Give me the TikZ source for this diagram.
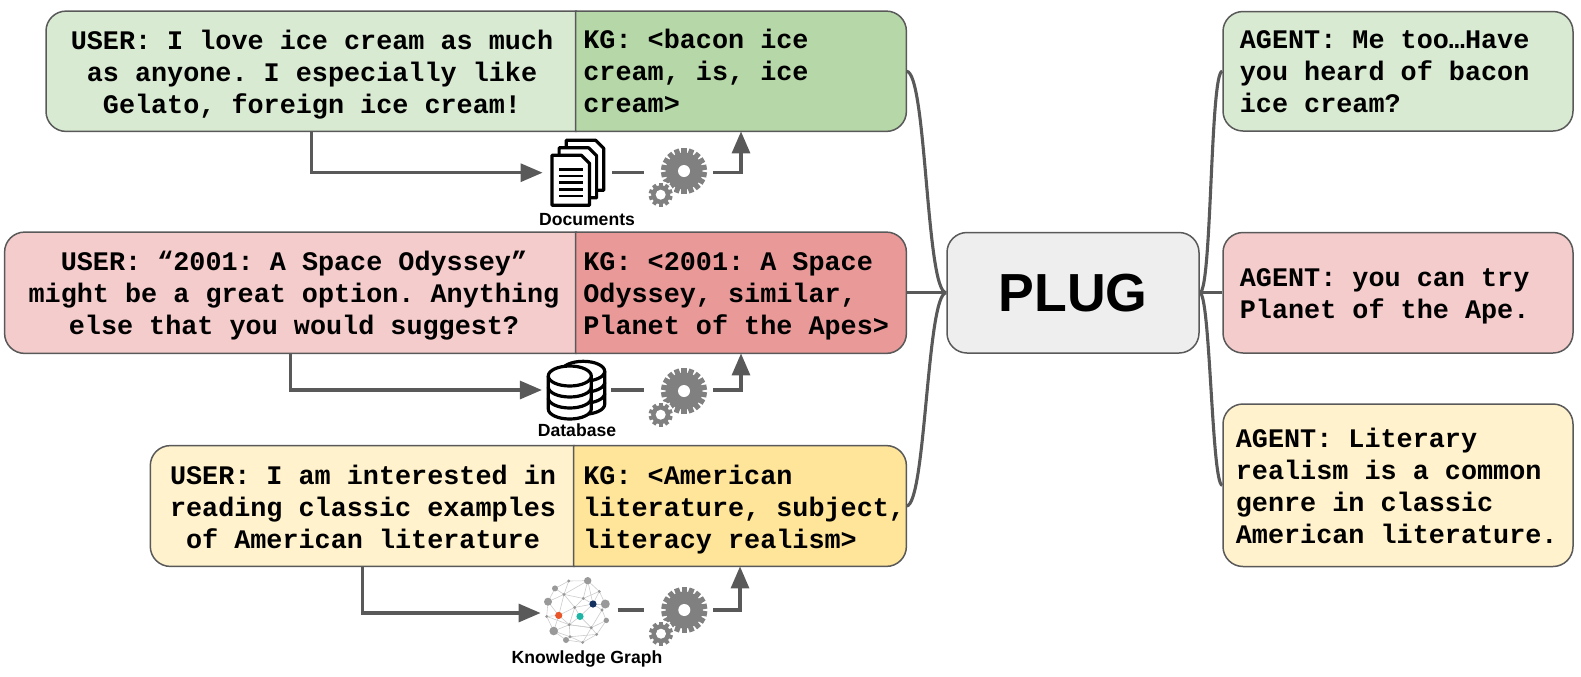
\documentclass[tikz,border=0pt]{standalone}
\usepackage{fontspec}
\setmonofont{Liberation Mono}
\setsansfont{Liberation Sans}
\usetikzlibrary{arrows.meta, fit}

\definecolor{greenL}{HTML}{D9EAD3}
\definecolor{greenD}{HTML}{B6D7A8}
\definecolor{redL}{HTML}{F4CCCC}
\definecolor{redD}{HTML}{EA9999}
\definecolor{yellowL}{HTML}{FFF2CC}
\definecolor{yellowD}{HTML}{FFE599}
\definecolor{plugfill}{HTML}{EEEEEE}
\definecolor{linegray}{HTML}{595959}
\definecolor{geargray}{HTML}{808080}
\definecolor{kgorange}{HTML}{E8562A}
\definecolor{kgteal}{HTML}{1FB5A6}
\definecolor{kgnavy}{HTML}{14305E}

\begin{document}
\begin{tikzpicture}[
    x=0.5pt, y=-0.5pt,
    >={Triangle[length=11pt,width=9pt]},
    part/.style={inner sep=0pt},
    edge/.style={draw=linegray, line width=0.75pt},
    agent/.style={part, edge, rounded corners=10pt},
    flow/.style={draw=linegray, line width=1.55pt},
    link/.style={flow, out=0, in=180},
    msg/.style={font=\ttfamily\bfseries\fontsize{13.4}{16}\selectfont, inner sep=0pt},
    usertext/.style={msg, align=center},
    kgtext/.style={msg, align=left, anchor=west},
    caption/.style={font=\sffamily\bfseries\fontsize{8.8}{10}\selectfont, inner sep=0pt},
    dark/.style={draw=black, line width=1.6pt},
    gearpair/.pic={
        \fill[geargray] (0,0) circle (18.5);
        \foreach \a in {0,20,...,340}
            \fill[geargray, rotate=\a] (-2.6,-23) rectangle (2.6,-16);
        \fill[white] (0,0) circle (6);
        \fill[white] (-23.3,23.7) circle (13.5);
        \fill[geargray] (-23.3,23.7) circle (9.5);
        \foreach \a in {0,36,...,324}
            \fill[geargray, shift={(-23.3,23.7)}, rotate=\a] (-2,-12) rectangle (2,-8);
        \fill[white] (-23.3,23.7) circle (5);
    },
    sheet/.pic={
        \draw[dark, fill=white, line join=round] (0,0) -- (29.5,0) -- (37.5,8) -- (37.5,50) -- (0,50) -- cycle;
    },
    barrel/.pic={
        \draw[dark, fill=white] (-21.5,0) -- (-21.5,33)
            arc[start angle=180, end angle=0, x radius=21.5, y radius=10] -- (21.5,0);
        \draw[dark, fill=white] (0,0) ellipse [x radius=21.5, y radius=10];
        \foreach \t in {11,22}
            \draw[dark] (-21.5,\t) arc[start angle=180, end angle=0, x radius=21.5, y radius=10];
    }
]
\useasboundingbox (0,0) rectangle (1581,676);

% Left panels
\node[part, fit={(46.4,11.5) (576,131)}] (user1) {};
\node[part, fit={(576,11.5) (906,131)}] (kg1) {};
\node[part, fit={(5,232.5) (576,353)}] (user2) {};
\node[part, fit={(576,232.5) (906,353)}] (kg2) {};
\node[part, fit={(150.7,446) (574,566)}] (user3) {};
\node[part, fit={(574,446) (906,566)}] (kg3) {};

\foreach \nm/\col in {user1/greenL, user2/redL, user3/yellowL}
    \draw[edge, fill=\col] (\nm.north east) [rounded corners=10pt] -- (\nm.north west)
        -- (\nm.south west) [sharp corners] -- (\nm.south east) -- cycle;
\foreach \nm/\col in {kg1/greenD, kg2/redD, kg3/yellowD}
    \draw[edge, fill=\col] (\nm.north west) [rounded corners=10pt] -- (\nm.north east)
        -- (\nm.south east) [sharp corners] -- (\nm.south west) -- cycle;

% Panel texts
\node[usertext] (usertext1) at (312,74.5) {USER: I love ice cream as much\\as anyone. I especially like\\Gelato, foreign ice cream!};
\node[kgtext] (kgtext1) at (583,70.5) {KG: <bacon ice\\cream, is, ice\\cream>};
\node[usertext] (usertext2) at (294,295.5) {USER: “2001: A Space Odyssey”\\might be a great option. Anything\\else that you would suggest?};
\node[kgtext] (kgtext2) at (583,296) {KG: <2001: A Space\\Odyssey, similar,\\Planet of the Apes>};
\node[usertext] (usertext3) at (363,507) {USER: I am interested in\\reading classic examples\\of American literature};
\node[kgtext] (kgtext3) at (583,509.5) {KG: <American\\literature, subject,\\literacy realism>};

% Centre and answers
\node[agent, fill=plugfill, fit={(947,232.5) (1199,353)}] (plug) {};
\node[font=\sffamily\bfseries\fontsize{26.8}{30}\selectfont, inner sep=0pt] (plugtext) at (1073,293) {PLUG};
\node[agent, fill=greenL, fit={(1223,11.5) (1573,131)}] (agent1) {};
\node[agent, fill=redL, fit={(1223,232.5) (1573,353)}] (agent2) {};
\node[agent, fill=yellowL, fit={(1223,404) (1573,566.5)}] (agent3) {};
\node[kgtext] (agenttext1) at (1239.5,71.5) {AGENT: Me too…Have\\you heard of bacon\\ice cream?};
\node[kgtext] (agenttext2) at (1239.5,296) {AGENT: you can try\\Planet of the Ape.};
\node[kgtext] (agenttext3) at (1235.5,486) {AGENT: Literary\\realism is a common\\genre in classic\\American literature.};

% Icon slots
\node[part, fit={(543,139) (612,206.4)}] (docs) {};
\node[part, fit={(644,150) (713,195.4)}] (gear1) {};
\node[part, fit={(542.3,360) (610.7,420)}] (base) {};
\node[part, fit={(644,370) (713,410)}] (gear2) {};
\node[part, fit={(541,580) (617.3,646)}] (graph) {};
\node[part, fit={(644,590) (713,630)}] (gear3) {};

% Documents icon
\foreach \dx/\dy in {14.2/-15, 7.1/-7.5, 0/0}
    \pic at (552+\dx,155.3+\dy) {sheet};
\foreach \ly in {169.3,176,182.7,189.3,196}
    \fill[black] (558.7,\ly-1.3) rectangle (582.7,\ly+1.3);

% Database icon
\pic at (583.2,371.3) {barrel};
\pic at (569.8,376) {barrel};

% Knowledge graph icon
\begin{scope}[shift={(576,611.7)}]
    \foreach \n/\x/\y in {a/11.7/-31, b/-21/-23.3, c/-28/-10, d/29.3/-7.7, e/-22.3/19.3, f/30.3/8.7, g/-10/28.3,
        h/-7.3/-30.7, i/23.3/-20.3, j/-12/-17.3, k/7.3/-13.3, l/-1.3/-4.3, m/-29.3/4.7, n/26/-1.7,
        o/-6.7/13, p/15.3/16, q/20.7/22.7, r/-6/25, s/6.7/30.7, u/-17.3/3.7, v/4/4.7, w/17/-7.7}
        \coordinate (kg\n) at (\x,\y);
    \foreach \p/\q in {h/a, a/i, i/d, d/n, n/f, f/q, q/s, s/g, g/e, e/m, m/c, c/b, b/h, j/h, j/a, j/b, j/c, j/k, j/l, j/u,
        k/a, k/i, k/w, k/l, l/w, l/v, l/u, l/o, u/c, u/m, u/e, u/o, v/w, v/o, v/p, w/d, w/n, w/i, n/p, f/p, p/q, p/o, o/e, o/r,
        r/g, r/s, r/e, p/s, o/p, a/w, m/o, q/r}
        \draw[gray!40, line width=0.3pt] (kg\p) -- (kg\q);
    \foreach \n/\r in {a/3.7, b/3, c/4, d/4.5, e/4.3, f/2.7, g/3}
        \fill[gray!80] (kg\n) circle (\r);
    \foreach \n in {h,i,j,k,l,m,n,o,p,q,r,s}
        \fill[gray!80] (kg\n) circle (1.6);
    \fill[kgorange] (kgu) circle (3.6);
    \fill[kgteal] (kgv) circle (3.6);
    \fill[kgnavy] (kgw) circle (3.6);
\end{scope}

% Gears
\pic at (684,171) {gearpair};
\pic at (684,391) {gearpair};
\pic at (684.3,610) {gearpair};

% Icon captions
\node[caption] (docslabel) at (587,220) {Documents};
\node[caption] (baselabel) at (577,430) {Database};
\node[caption] (graphlabel) at (587,659) {Knowledge Graph};

% Arrows through the icons
\draw[flow, ->] (user1.south) |- (docs.west);
\draw[flow] (docs.east) -- (gear1.west);
\draw[flow, ->] (gear1.east) -| (kg1.south);
\draw[flow, ->] (user2.south) |- (base.west);
\draw[flow] (base.east) -- (gear2.west);
\draw[flow, ->] (gear2.east) -| (kg2.south);
\draw[flow, ->] (user3.south) |- (graph.west);
\draw[flow] (graph.east |- gear3.west) -- (gear3.west);
\draw[flow, ->] (gear3.east) -| (kg3.south);

% Links to PLUG
\draw[link, looseness=0.23] (kg1.east) to (plug.west);
\draw[flow] (kg2.east) -- (plug.west);
\draw[link, looseness=0.23] (kg3.east) to (plug.west);
\draw[link, looseness=0.14] (plug.east) to (agent1.west);
\draw[flow] (plug.east) -- (agent2.west);
\draw[link, looseness=0.14] (plug.east) to (agent3.west);

\end{tikzpicture}
\end{document}
